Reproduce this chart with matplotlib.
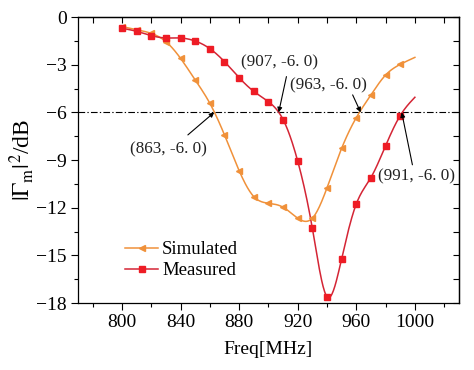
import numpy as np
import matplotlib
matplotlib.use("Agg")
import matplotlib.pyplot as plt
from matplotlib.ticker import MultipleLocator

freq = [800, 810, 820, 830, 840, 850, 860, 870, 880, 890, 900,
        910, 920, 930, 940, 950, 960, 970, 980, 990, 1000]
simulated = [-0.6, -0.8, -1.03, -1.55, -2.6, -3.96, -5.43, -7.42, -9.67, -11.3, -11.72,
             -11.97, -12.66, -12.66, -10.75, -8.26, -6.33, -4.9, -3.65, -2.98, -2.54]
measured = [-0.71, -0.9, -1.17, -1.32, -1.32, -1.51, -1.99, -2.81, -3.82, -4.68, -5.33,
            -6.45, -9.07, -13.3, -17.6, -15.2, -11.76, -10.1, -8.1, -6.2, -5.05]

# label, point x, point y, text x, text y, arrow-start x, arrow-start y
annotations = [
    ("(863, -6. 0)", 863, -6.0, 832.0, -8.36, 845.0, -7.42),
    ("(907, -6. 0)", 907, -6.0, 907.7, -2.83, 912.3, -3.75),
    ("(963, -6. 0)", 963, -6.0, 941.0, -4.28, 957.5, -4.9),
    ("(991, -6. 0)", 991, -6.0, 1000.8, -10.04, 998.3, -9.3),
]

def spline(x, y, n=400):
    x = np.asarray(x, float); y = np.asarray(y, float)
    h = np.diff(x)
    N = len(x)
    A = np.zeros((N, N)); b = np.zeros(N)
    A[0, 0] = 1; A[-1, -1] = 1
    for i in range(1, N - 1):
        A[i, i - 1] = h[i - 1]
        A[i, i] = 2 * (h[i - 1] + h[i])
        A[i, i + 1] = h[i]
        b[i] = 6 * ((y[i + 1] - y[i]) / h[i] - (y[i] - y[i - 1]) / h[i - 1])
    M = np.linalg.solve(A, b)
    xs = np.linspace(x[0], x[-1], n)
    idx = np.clip(np.searchsorted(x, xs) - 1, 0, N - 2)
    x0, x1 = x[idx], x[idx + 1]
    hh = x1 - x0
    t0 = x1 - xs; t1 = xs - x0
    ys = (M[idx] * t0**3 + M[idx + 1] * t1**3) / (6 * hh) \
        + (y[idx] / hh - M[idx] * hh / 6) * t0 + (y[idx + 1] / hh - M[idx + 1] * hh / 6) * t1
    return xs, ys

plt.rcParams['font.family'] = ['Liberation Serif', 'DejaVu Serif']
plt.rcParams['mathtext.fontset'] = 'stix'

fig = plt.figure(figsize=(4.74, 3.70), dpi=100)
ax = fig.add_axes([0.1646, 0.181, 0.8034, 0.773])

orange = '#F0913A'
red_line = '#D42535'
red_mk = '#EE1C25'

xs, ys = spline(freq, simulated)
ax.plot(xs, ys, color=orange, lw=1.1, zorder=3)
ax.plot(freq[:-1], simulated[:-1], ls='none', marker='<', ms=5, color=orange, zorder=4)
xs, ys = spline(freq, measured)
ax.plot(xs, ys, color=red_line, lw=1.1, zorder=3)
ax.plot(freq[:-1], measured[:-1], ls='none', marker='s', ms=5, color=red_mk, zorder=4)

ax.plot([], [], color=orange, lw=1.1, marker='<', ms=4, label='Simulated')
ax.plot([], [], color=red_line, lw=1.1, marker='s', ms=4, mfc=red_mk, mec=red_mk, label='Measured')

ax.axhline(-6, color='black', lw=0.8, ls=(0, (6, 2, 1.2, 2)), zorder=2)

for txt, x, y, tx, ty, ax0, ay0 in annotations:
    ax.text(tx, ty, txt, fontsize=12.3, ha='center', va='center', color='#222222', zorder=5)
    ax.annotate('', xy=(x, y), xytext=(ax0, ay0),
                arrowprops=dict(arrowstyle='-|>', color='black', lw=0.8,
                                mutation_scale=7, shrinkA=0, shrinkB=0), zorder=5)

ax.set_xlim(770, 1030)
ax.set_ylim(-18, 0)
ax.set_xticks([800, 840, 880, 920, 960, 1000])
ax.xaxis.set_minor_locator(MultipleLocator(20))
ax.yaxis.set_major_locator(MultipleLocator(3))
ax.yaxis.set_minor_locator(MultipleLocator(1.5))
ax.tick_params(which='both', direction='out', labelsize=14, width=0.8, colors='black')
ax.tick_params(which='major', length=5, pad=3)
ax.tick_params(which='minor', length=3)

secx = ax.secondary_xaxis('top')
secx.xaxis.set_major_locator(MultipleLocator(20))
secx.tick_params(direction='in', length=4, labeltop=False, width=0.8)
secy = ax.secondary_yaxis('right')
secy.yaxis.set_major_locator(MultipleLocator(1.5))
secy.tick_params(direction='in', length=4, labelright=False, width=0.8)

for s in list(ax.spines.values()):
    s.set_linewidth(0.9)
secx.spines['top'].set_linewidth(0.9)
secy.spines['right'].set_linewidth(0.9)

ax.set_xlabel('Freq[MHz]', fontsize=14, labelpad=7)
ax.set_ylabel(r'$|\mathit{\Gamma}_{\mathrm{m}}|^2$/dB', fontsize=17, labelpad=0)

ax.legend(loc='lower left', bbox_to_anchor=(0.1, 0.05), frameon=False, fontsize=13.5,
          handlelength=1.75, handletextpad=0.2, labelspacing=0.2, borderpad=0)

fig.savefig('out.png', dpi=100)
